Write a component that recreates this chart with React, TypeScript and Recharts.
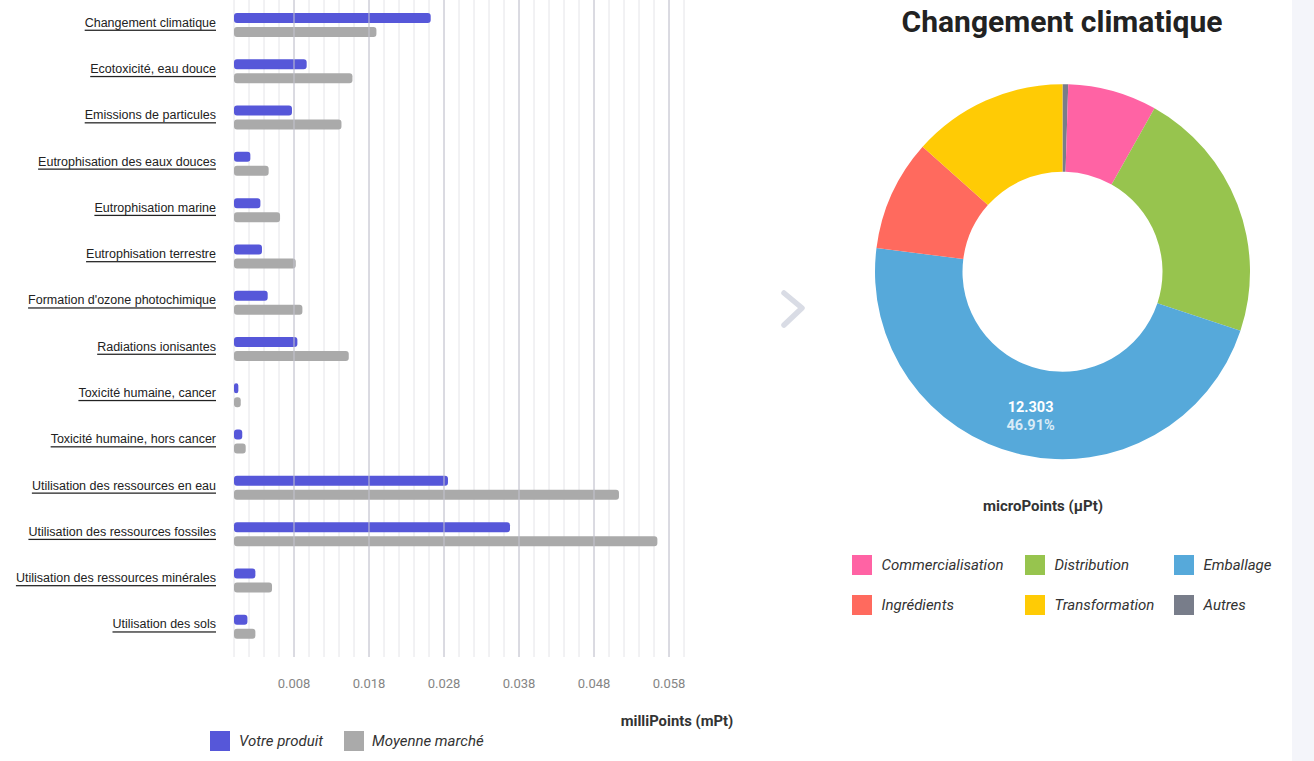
import React from "react";
import { BarChart, Bar, XAxis, YAxis, CartesianGrid, ReferenceLine, PieChart, Pie, Cell } from "recharts";

const categories = [
  "Changement climatique",
  "Ecotoxicité, eau douce",
  "Emissions de particules",
  "Eutrophisation des eaux douces",
  "Eutrophisation marine",
  "Eutrophisation terrestre",
  "Formation d'ozone photochimique",
  "Radiations ionisantes",
  "Toxicité humaine, cancer",
  "Toxicité humaine, hors cancer",
  "Utilisation des ressources en eau",
  "Utilisation des ressources fossiles",
  "Utilisation des ressources minérales",
  "Utilisation des sols",
];
const votreProduit = [0.026227, 0.00969, 0.00773, 0.00218, 0.00352, 0.00373, 0.00449, 0.00845, 0.00058, 0.0011, 0.02853, 0.0368, 0.00285, 0.00179];
const moyenneMarche = [0.01899, 0.01579, 0.01433, 0.00462, 0.00614, 0.00823, 0.00912, 0.0153, 0.0009, 0.00156, 0.05133, 0.05645, 0.00507, 0.00285];

const minorTicks = [0, 0.002, 0.004, 0.006, 0.008, 0.01, 0.012, 0.014, 0.016, 0.018, 0.02, 0.022, 0.024, 0.026, 0.028, 0.03, 0.032, 0.034, 0.036, 0.038, 0.04, 0.042, 0.044, 0.046, 0.048, 0.05, 0.052, 0.054, 0.056, 0.058, 0.06];
const majorTicks = [0.008, 0.018, 0.028, 0.038, 0.048, 0.058];
const majorLabels = ["0.008", "0.018", "0.028", "0.038", "0.048", "0.058"];

const pieNames = ["Autres", "Commercialisation", "Distribution", "Emballage", "Ingrédients", "Transformation"];
const pieValues = [0.128, 2.014, 5.754, 12.303, 2.513, 3.515];
const pieColors = ["#787d8a", "#ff63a4", "#97c44e", "#56a9da", "#ff6a5e", "#ffcb05"];

const legendNames = ["Commercialisation", "Distribution", "Emballage", "Ingrédients", "Transformation", "Autres"];
const legendColors = ["#ff63a4", "#97c44e", "#56a9da", "#ff6a5e", "#ffcb05", "#787d8a"];

const BLUE = "#5657d9";
const GREY = "#aaaaaa";

const barData = categories.map((name, i) => ({ name, votre: votreProduit[i], moyenne: moyenneMarche[i] }));
const pieData = pieNames.map((name, i) => ({ name, value: pieValues[i] }));
const pieTotal = pieValues.reduce((a, b) => a + b, 0);

const YTick = (props: any) => {
  const { x, y, payload } = props;
  return (
    <text x={x} y={y - 2.5} textAnchor="end" dominantBaseline="central" fontFamily="'Liberation Sans', Arial, sans-serif" fontSize={12.5} fill="#222" textDecoration="underline">
      {payload.value}
    </text>
  );
};

const XTick = (props: any) => {
  const { x, y, payload } = props;
  const idx = majorTicks.indexOf(payload.value);
  if (idx < 0) return null;
  return (
    <text x={x} y={y + 26.5} textAnchor="middle" dominantBaseline="central" fontFamily="Roboto, sans-serif" fontSize={13} fill="#858585">
      {majorLabels[idx]}
    </text>
  );
};

const RADIAN = Math.PI / 180;
const PieLabel = (props: any) => {
  const { cx, cy, midAngle, innerRadius, outerRadius, value } = props;
  const pct = value / pieTotal;
  if (pct < 0.3) return null;
  const r = (innerRadius + outerRadius) / 2;
  const x = cx + r * Math.cos(-midAngle * RADIAN);
  const y = cy + r * Math.sin(-midAngle * RADIAN);
  return (
    <g>
      <text x={x} y={y - 4.5} textAnchor="middle" dominantBaseline="central" fontFamily="Roboto, sans-serif" fontWeight="bold" fontSize={14.5} fill="#ffffff">
        {value.toFixed(3)}
      </text>
      <text x={x} y={y + 13.5} textAnchor="middle" dominantBaseline="central" fontFamily="Roboto, sans-serif" fontWeight="bold" fontSize={14.5} fill="rgba(255,255,255,0.78)">
        {(pct * 100).toFixed(2) + "%"}
      </text>
    </g>
  );
};

const legendText: React.CSSProperties = {
  position: "absolute",
  fontFamily: "Roboto, sans-serif",
  fontStyle: "italic",
  fontSize: 15,
  color: "#333",
  lineHeight: "20px",
  whiteSpace: "nowrap",
};

export default function App() {
  const legendCols = [852, 1025, 1174];
  const legendRows = [554, 594];
  return (
    <div style={{ position: "absolute", left: 0, top: 0, width: 1314, height: 761, background: "#fff", overflow: "hidden" }}>
      <div style={{ position: "absolute", left: 1292, top: 0, width: 22, height: 761, background: "#f4f5fa" }} />

      <div style={{ position: "absolute", left: 0, top: 0 }}>
        <BarChart
          width={760}
          height={761}
          data={barData}
          layout="vertical"
          margin={{ top: 0, right: 76, left: 0, bottom: 74 }}
          barSize={10}
          barGap={4}
        >
          <CartesianGrid horizontal={false} vertical={true} stroke="#e4e4e8" strokeDasharray="" />
          <XAxis
            type="number"
            domain={[0, 0.06]}
            ticks={minorTicks}
            interval={0}
            height={30}
            axisLine={false}
            tickLine={false}
            tickSize={0}
            tickMargin={0}
            tick={<XTick />}
          />
          <YAxis
            type="category"
            dataKey="name"
            width={234}
            axisLine={false}
            tickLine={false}
            tickSize={0}
            tickMargin={18}
            interval={0}
            padding={{ top: 2, bottom: 7 }}
            tick={<YTick />}
          />
          {majorTicks.map((t) => (
            <ReferenceLine key={t} x={t} stroke="#c4c4d0" strokeWidth={1} />
          ))}
          <Bar dataKey="votre" fill={BLUE} radius={3} isAnimationActive={false} />
          <Bar dataKey="moyenne" fill={GREY} radius={3} isAnimationActive={false} />
        </BarChart>
      </div>

      <div style={{ position: "absolute", left: 560, top: 710, width: 234, textAlign: "center", fontFamily: "Roboto, sans-serif", fontWeight: "bold", fontSize: 14.8, color: "#333", lineHeight: "22px" }}>
        milliPoints (mPt)
      </div>

      <div style={{ position: "absolute", left: 210, top: 731, width: 20, height: 20, background: BLUE }} />
      <div style={{ ...legendText, left: 239, top: 730.5 }}>Votre produit</div>
      <div style={{ position: "absolute", left: 344, top: 731, width: 20, height: 20, background: GREY }} />
      <div style={{ ...legendText, left: 372, top: 730.5 }}>Moyenne marché</div>

      <svg style={{ position: "absolute", left: 770, top: 280 }} width={50} height={60}>
        <polyline points="14,13 32,28 14,45" fill="none" stroke="#d9dce5" strokeWidth={5.5} strokeLinecap="round" strokeLinejoin="round" />
      </svg>

      <div style={{ position: "absolute", left: 862, top: 1, width: 400, textAlign: "center", fontFamily: "Roboto, sans-serif", fontWeight: "bold", fontSize: 30, color: "#222", lineHeight: "42px" }}>
        Changement climatique
      </div>

      <div style={{ position: "absolute", left: 800, top: 0 }}>
        <PieChart width={490} height={480} margin={{ top: 0, right: 0, bottom: 0, left: 0 }}>
          <Pie
            data={pieData}
            dataKey="value"
            nameKey="name"
            cx={262.5}
            cy={271.7}
            innerRadius={100}
            outerRadius={187.5}
            startAngle={90}
            endAngle={-270}
            stroke="none"
            label={PieLabel}
            labelLine={false}
            isAnimationActive={false}
          >
            {pieData.map((d, i) => (
              <Cell key={d.name} fill={pieColors[i]} />
            ))}
          </Pie>
        </PieChart>
      </div>

      <div style={{ position: "absolute", left: 943, top: 495, width: 200, textAlign: "center", fontFamily: "Roboto, sans-serif", fontWeight: "bold", fontSize: 15, color: "#333", lineHeight: "22px" }}>
        microPoints (µPt)
      </div>

      {legendNames.map((name, i) => {
        const col = i % 3;
        const row = Math.floor(i / 3);
        const lx = legendCols[col];
        const ly = legendRows[row];
        return (
          <React.Fragment key={name}>
            <div style={{ position: "absolute", left: lx, top: ly + 1, width: 20, height: 20, background: legendColors[i] }} />
            <div style={{ ...legendText, left: lx + 29.5, top: ly + 0.5 }}>{name}</div>
          </React.Fragment>
        );
      })}
    </div>
  );
}
